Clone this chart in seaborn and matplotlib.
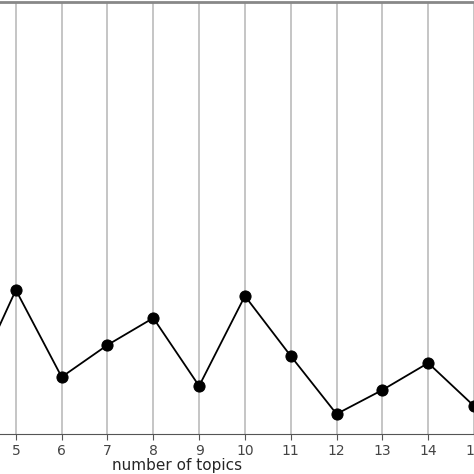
import matplotlib
matplotlib.use("Agg")
import matplotlib.pyplot as plt
import seaborn as sns
import pandas as pd

# (no y scale shown, so pixel-height units)
topics = [4, 5, 6, 7, 8, 9, 10, 11, 12, 13, 14, 15]
score = [84, 184, 97, 129, 156, 88, 178, 118, 60, 84, 111, 68]
df = pd.DataFrame({"topics": topics, "score": score})

sns.set_style("white")
fig = plt.figure(figsize=(4.74, 4.74), dpi=100)
ax = fig.add_axes([0, 474 - 434 and 40 / 474, 1, 432 / 474])

sns.lineplot(data=df, x="topics", y="score", color="black", marker="o",
             markersize=8, markeredgecolor="black", linewidth=1.3, ax=ax, clip_on=True)

ax.set_xlim(4.654, 14.913)
ax.set_ylim(40, 472)
ax.set_xticks(range(5, 16))
ax.set_yticks([])
ax.grid(axis="x", color="#bbbbbb", linewidth=1.2)
ax.tick_params(axis="x", bottom=True, length=4, color="#555555", labelsize=10, labelcolor="#444444")
ax.set_xlabel("number of topics", fontsize=11)
ax.xaxis.set_label_coords(0.373, -0.055)
ax.set_ylabel("")
for s in ["left", "right"]:
    ax.spines[s].set_visible(False)
ax.spines["bottom"].set_color("#555555")
ax.spines["top"].set_color("#888888")
ax.spines["top"].set_linewidth(2)

fig.savefig("out.png", dpi=100)
